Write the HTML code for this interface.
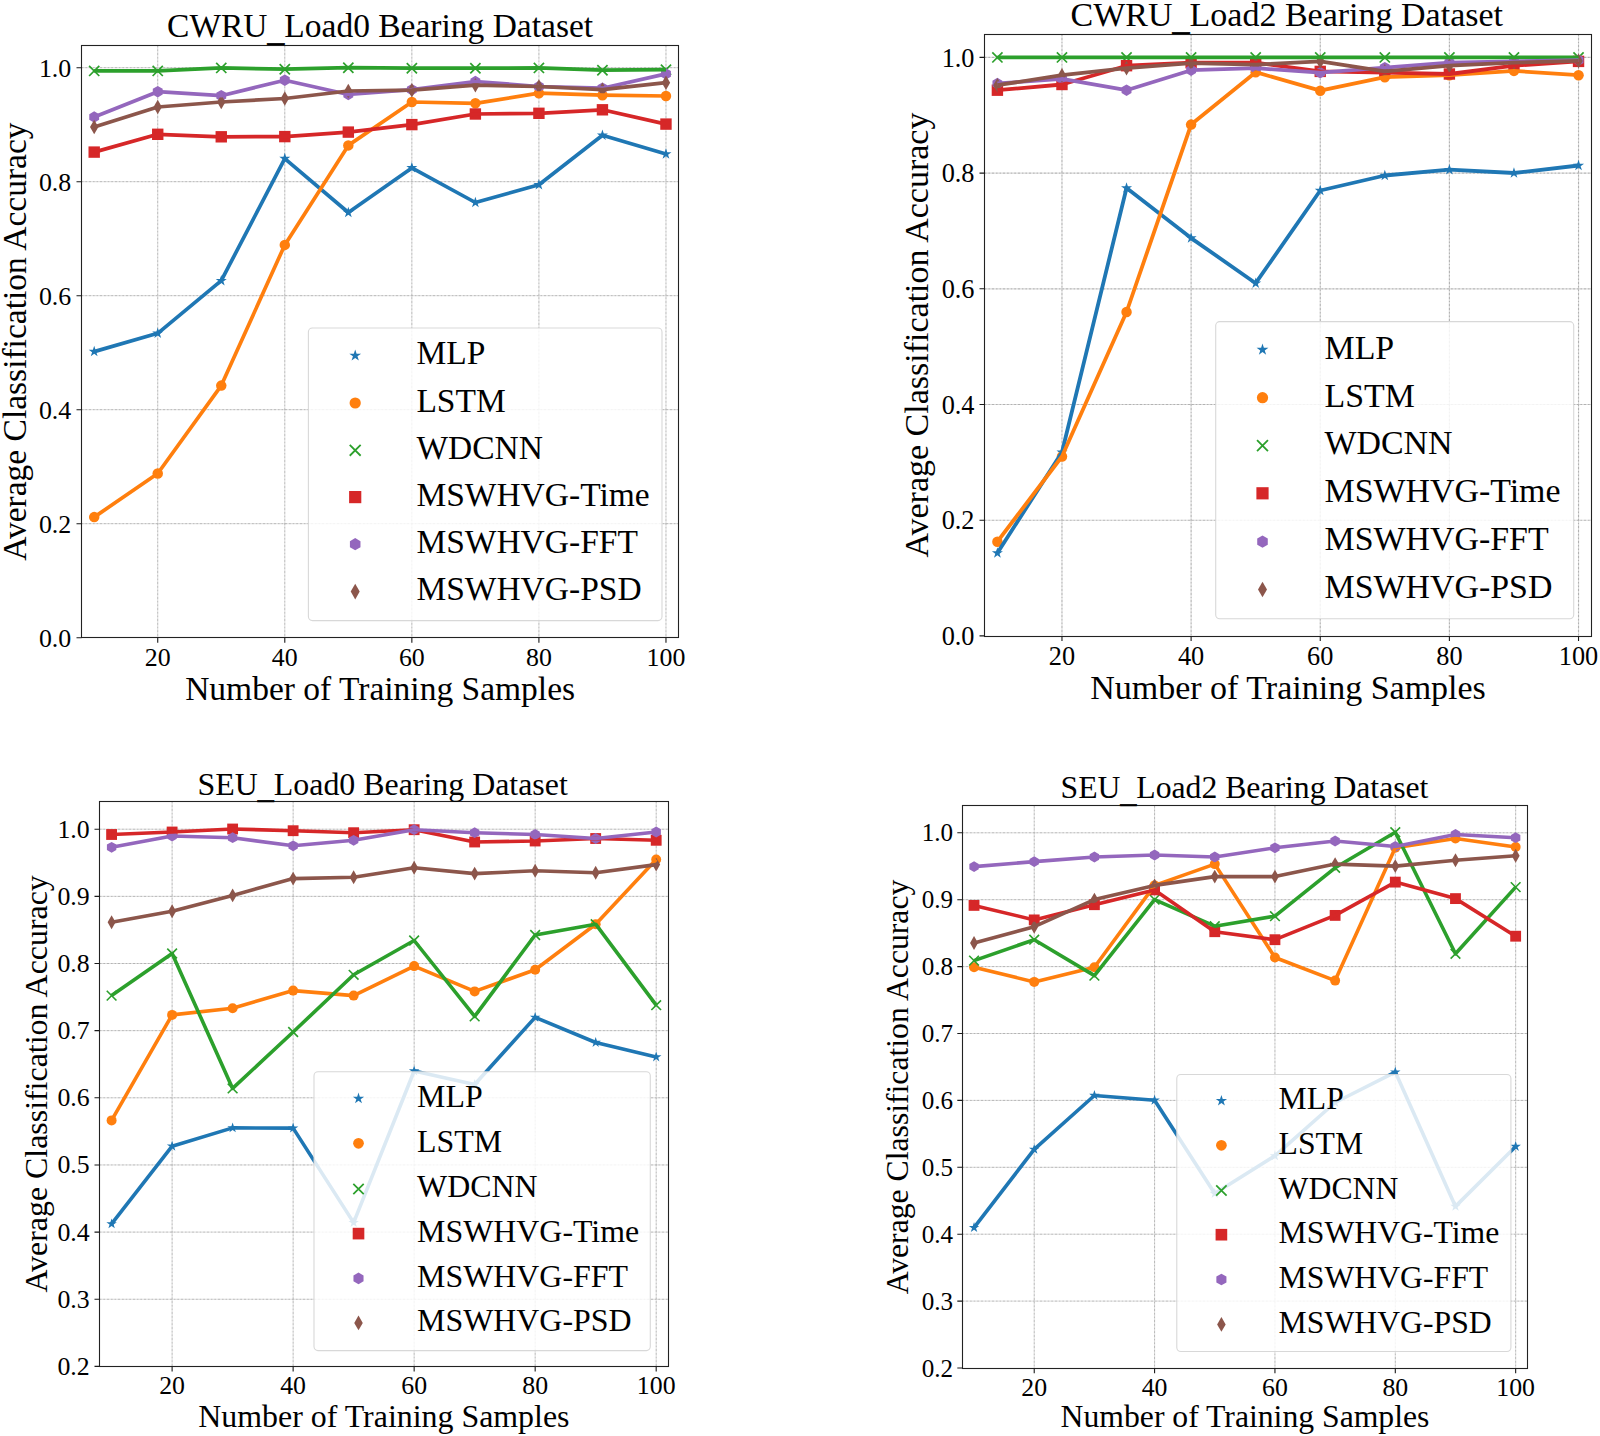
<!DOCTYPE html>
<html lang="en"><head><meta charset="utf-8"><title>Average Classification Accuracy</title>
<style>
html,body{margin:0;padding:0;background:#fff}
svg{display:block}
text{font-family:"Liberation Serif","Times New Roman",serif;fill:#000}
.grid{fill:none;stroke-dasharray:2.2 .5 .5 .5}
.gv{stroke:#8e8e8e;stroke-width:.65}
.gh{stroke:#acacac;stroke-width:.9}
.g2{stroke:#b2b2b2;stroke-width:1.15}
.us{stroke:#000;stroke-width:.6}
.spine{fill:none;stroke:#222;stroke-width:1.1}
.tick{stroke:#1a1a1a;stroke-width:1.1;fill:none}
.leg{fill:#fff;fill-opacity:.84;stroke:#d4d4d4;stroke-opacity:.9;stroke-width:1.1}
</style></head><body>
<svg width="1600" height="1436" viewBox="0 0 1600 1436">
<rect width="1600" height="1436" fill="#fff"/>
<g>
<rect x="81.5" y="45.5" width="597.2" height="592.2" fill="#fff"/>
<path d="M157.73 45.5V637.7M284.79 45.5V637.7M411.85 45.5V637.7M538.91 45.5V637.7M665.97 45.5V637.7" class="grid gv"/>
<path d="M81.5 523.7H678.7M81.5 409.7H678.7M81.5 295.7H678.7M81.5 181.7H678.7M81.5 67.7H678.7" class="grid gh"/>
<g><polygon points="94.2,345.8 92.9,349.81 88.68,349.81 92.09,352.28 90.79,356.29 94.2,353.82 97.61,356.29 96.31,352.28 99.72,349.81 95.5,349.81" fill="#1f77b4"/><polygon points="157.73,327.5 156.43,331.51 152.21,331.51 155.62,333.98 154.32,337.99 157.73,335.52 161.14,337.99 159.84,333.98 163.25,331.51 159.03,331.51" fill="#1f77b4"/><polygon points="221.26,274.9 219.96,278.91 215.74,278.91 219.15,281.38 217.85,285.39 221.26,282.92 224.67,285.39 223.37,281.38 226.78,278.91 222.56,278.91" fill="#1f77b4"/><polygon points="284.79,152.8 283.49,156.81 279.27,156.81 282.68,159.28 281.38,163.29 284.79,160.82 288.2,163.29 286.9,159.28 290.31,156.81 286.09,156.81" fill="#1f77b4"/><polygon points="348.32,206.7 347.02,210.71 342.8,210.71 346.21,213.18 344.91,217.19 348.32,214.72 351.73,217.19 350.43,213.18 353.84,210.71 349.62,210.71" fill="#1f77b4"/><polygon points="411.85,162.1 410.55,166.11 406.33,166.11 409.74,168.58 408.44,172.59 411.85,170.12 415.26,172.59 413.96,168.58 417.37,166.11 413.15,166.11" fill="#1f77b4"/><polygon points="475.38,196.7 474.08,200.71 469.86,200.71 473.27,203.18 471.97,207.19 475.38,204.72 478.79,207.19 477.49,203.18 480.9,200.71 476.68,200.71" fill="#1f77b4"/><polygon points="538.91,178.9 537.61,182.91 533.39,182.91 536.8,185.38 535.5,189.39 538.91,186.92 542.32,189.39 541.02,185.38 544.43,182.91 540.21,182.91" fill="#1f77b4"/><polygon points="602.44,129.5 601.14,133.51 596.92,133.51 600.33,135.98 599.03,139.99 602.44,137.52 605.85,139.99 604.55,135.98 607.96,133.51 603.74,133.51" fill="#1f77b4"/><polygon points="665.97,148.3 664.67,152.31 660.45,152.31 663.86,154.78 662.56,158.79 665.97,156.32 669.38,158.79 668.08,154.78 671.49,152.31 667.27,152.31" fill="#1f77b4"/></g>
<g><circle cx="94.2" cy="517.1" r="5.25" fill="#ff7f0e"/><circle cx="157.73" cy="473.5" r="5.25" fill="#ff7f0e"/><circle cx="221.26" cy="385.6" r="5.25" fill="#ff7f0e"/><circle cx="284.79" cy="244.9" r="5.25" fill="#ff7f0e"/><circle cx="348.32" cy="145.4" r="5.25" fill="#ff7f0e"/><circle cx="411.85" cy="102" r="5.25" fill="#ff7f0e"/><circle cx="475.38" cy="103.3" r="5.25" fill="#ff7f0e"/><circle cx="538.91" cy="93.2" r="5.25" fill="#ff7f0e"/><circle cx="602.44" cy="95.2" r="5.25" fill="#ff7f0e"/><circle cx="665.97" cy="96" r="5.25" fill="#ff7f0e"/></g>
<g><path d="M89.1 65.8L99.3 76M89.1 76L99.3 65.8" stroke="#2ca02c" stroke-width="1.7" fill="none"/><path d="M152.63 65.8L162.83 76M152.63 76L162.83 65.8" stroke="#2ca02c" stroke-width="1.7" fill="none"/><path d="M216.16 62.8L226.36 73M216.16 73L226.36 62.8" stroke="#2ca02c" stroke-width="1.7" fill="none"/><path d="M279.69 64.1L289.89 74.3M279.69 74.3L289.89 64.1" stroke="#2ca02c" stroke-width="1.7" fill="none"/><path d="M343.22 62.6L353.42 72.8M343.22 72.8L353.42 62.6" stroke="#2ca02c" stroke-width="1.7" fill="none"/><path d="M406.75 63.1L416.95 73.3M406.75 73.3L416.95 63.1" stroke="#2ca02c" stroke-width="1.7" fill="none"/><path d="M470.28 63.1L480.48 73.3M470.28 73.3L480.48 63.1" stroke="#2ca02c" stroke-width="1.7" fill="none"/><path d="M533.81 62.8L544.01 73M533.81 73L544.01 62.8" stroke="#2ca02c" stroke-width="1.7" fill="none"/><path d="M597.34 65.1L607.54 75.3M597.34 75.3L607.54 65.1" stroke="#2ca02c" stroke-width="1.7" fill="none"/><path d="M660.87 64.6L671.07 74.8M660.87 74.8L671.07 64.6" stroke="#2ca02c" stroke-width="1.7" fill="none"/></g>
<g><rect x="88.5" y="146.4" width="11.4" height="11.4" fill="#d62728"/><rect x="152.03" y="128.6" width="11.4" height="11.4" fill="#d62728"/><rect x="215.56" y="131.1" width="11.4" height="11.4" fill="#d62728"/><rect x="279.09" y="130.9" width="11.4" height="11.4" fill="#d62728"/><rect x="342.62" y="126.4" width="11.4" height="11.4" fill="#d62728"/><rect x="406.15" y="118.9" width="11.4" height="11.4" fill="#d62728"/><rect x="469.68" y="108.3" width="11.4" height="11.4" fill="#d62728"/><rect x="533.21" y="107.6" width="11.4" height="11.4" fill="#d62728"/><rect x="596.74" y="104.1" width="11.4" height="11.4" fill="#d62728"/><rect x="660.27" y="118.4" width="11.4" height="11.4" fill="#d62728"/></g>
<g><polygon points="94.2,111.3 89.26,114.15 89.26,119.85 94.2,122.7 99.14,119.85 99.14,114.15" fill="#9467bd"/><polygon points="157.73,86 152.79,88.85 152.79,94.55 157.73,97.4 162.67,94.55 162.67,88.85" fill="#9467bd"/><polygon points="221.26,90 216.32,92.85 216.32,98.55 221.26,101.4 226.2,98.55 226.2,92.85" fill="#9467bd"/><polygon points="284.79,74.5 279.85,77.35 279.85,83.05 284.79,85.9 289.73,83.05 289.73,77.35" fill="#9467bd"/><polygon points="348.32,88.8 343.38,91.65 343.38,97.35 348.32,100.2 353.26,97.35 353.26,91.65" fill="#9467bd"/><polygon points="411.85,84 406.91,86.85 406.91,92.55 411.85,95.4 416.79,92.55 416.79,86.85" fill="#9467bd"/><polygon points="475.38,75.8 470.44,78.65 470.44,84.35 475.38,87.2 480.32,84.35 480.32,78.65" fill="#9467bd"/><polygon points="538.91,80.8 533.97,83.65 533.97,89.35 538.91,92.2 543.85,89.35 543.85,83.65" fill="#9467bd"/><polygon points="602.44,82.5 597.5,85.35 597.5,91.05 602.44,93.9 607.38,91.05 607.38,85.35" fill="#9467bd"/><polygon points="665.97,68.2 661.03,71.05 661.03,76.75 665.97,79.6 670.91,76.75 670.91,71.05" fill="#9467bd"/></g>
<g><polygon points="94.2,119.7 98.4,127 94.2,134.3 90,127" fill="#8c564b"/><polygon points="157.73,99.7 161.93,107 157.73,114.3 153.53,107" fill="#8c564b"/><polygon points="221.26,94.7 225.46,102 221.26,109.3 217.06,102" fill="#8c564b"/><polygon points="284.79,91.2 288.99,98.5 284.79,105.8 280.59,98.5" fill="#8c564b"/><polygon points="348.32,83.7 352.52,91 348.32,98.3 344.12,91" fill="#8c564b"/><polygon points="411.85,82.9 416.05,90.2 411.85,97.5 407.65,90.2" fill="#8c564b"/><polygon points="475.38,77.9 479.58,85.2 475.38,92.5 471.18,85.2" fill="#8c564b"/><polygon points="538.91,79.2 543.11,86.5 538.91,93.8 534.71,86.5" fill="#8c564b"/><polygon points="602.44,82.4 606.64,89.7 602.44,97 598.24,89.7" fill="#8c564b"/><polygon points="665.97,75.4 670.17,82.7 665.97,90 661.77,82.7" fill="#8c564b"/></g>
<polyline points="94.2,351.6 157.73,333.3 221.26,280.7 284.79,158.6 348.32,212.5 411.85,167.9 475.38,202.5 538.91,184.7 602.44,135.3 665.97,154.1" fill="none" stroke="#1f77b4" stroke-width="3.7" stroke-linejoin="round" stroke-linecap="butt"/>
<polyline points="94.2,517.1 157.73,473.5 221.26,385.6 284.79,244.9 348.32,145.4 411.85,102 475.38,103.3 538.91,93.2 602.44,95.2 665.97,96" fill="none" stroke="#ff7f0e" stroke-width="3.7" stroke-linejoin="round" stroke-linecap="butt"/>
<polyline points="94.2,70.9 157.73,70.9 221.26,67.9 284.79,69.2 348.32,67.7 411.85,68.2 475.38,68.2 538.91,67.9 602.44,70.2 665.97,69.7" fill="none" stroke="#2ca02c" stroke-width="3.7" stroke-linejoin="round" stroke-linecap="butt"/>
<polyline points="94.2,152.1 157.73,134.3 221.26,136.8 284.79,136.6 348.32,132.1 411.85,124.6 475.38,114 538.91,113.3 602.44,109.8 665.97,124.1" fill="none" stroke="#d62728" stroke-width="3.7" stroke-linejoin="round" stroke-linecap="butt"/>
<polyline points="94.2,117 157.73,91.7 221.26,95.7 284.79,80.2 348.32,94.5 411.85,89.7 475.38,81.5 538.91,86.5 602.44,88.2 665.97,73.9" fill="none" stroke="#9467bd" stroke-width="3.7" stroke-linejoin="round" stroke-linecap="butt"/>
<polyline points="94.2,127 157.73,107 221.26,102 284.79,98.5 348.32,91 411.85,90.2 475.38,85.2 538.91,86.5 602.44,89.7 665.97,82.7" fill="none" stroke="#8c564b" stroke-width="3.7" stroke-linejoin="round" stroke-linecap="butt"/>
<rect x="308.4" y="328" width="353.6" height="292.6" rx="4" ry="4" class="leg"/>
<polygon points="355.2,349.39 353.81,353.68 349.3,353.68 352.95,356.33 351.55,360.62 355.2,357.97 358.85,360.62 357.45,356.33 361.1,353.68 356.59,353.68" fill="#1f77b4"/>
<text x="416.4" y="364.3" font-size="33.5">MLP</text>
<circle cx="355.2" cy="403" r="5.62" fill="#ff7f0e"/>
<text x="416.4" y="411.7" font-size="33.5">LSTM</text>
<path d="M349.74 444.84L360.66 455.76M349.74 455.76L360.66 444.84" stroke="#2ca02c" stroke-width="1.82" fill="none"/>
<text x="416.4" y="459" font-size="33.5">WDCNN</text>
<rect x="349.1" y="491" width="12.2" height="12.2" fill="#d62728"/>
<text x="416.4" y="505.8" font-size="33.5">MSWHVG-Time</text>
<polygon points="355.2,538.1 349.92,541.15 349.92,547.25 355.2,550.3 360.48,547.25 360.48,541.15" fill="#9467bd"/>
<text x="416.4" y="552.9" font-size="33.5">MSWHVG-FFT</text>
<polygon points="355.2,583.79 359.69,591.6 355.2,599.41 350.71,591.6" fill="#8c564b"/>
<text x="416.4" y="600.3" font-size="33.5">MSWHVG-PSD</text>
<rect x="81.5" y="45.5" width="597" height="592" class="spine"/>
<path d="M157.73 637.7v5M284.79 637.7v5M411.85 637.7v5M538.91 637.7v5M665.97 637.7v5M81.5 637.7h-5M81.5 523.7h-5M81.5 409.7h-5M81.5 295.7h-5M81.5 181.7h-5M81.5 67.7h-5" class="tick"/>
<text x="157.73" y="666" font-size="25.9" text-anchor="middle">20</text>
<text x="284.79" y="666" font-size="25.9" text-anchor="middle">40</text>
<text x="411.85" y="666" font-size="25.9" text-anchor="middle">60</text>
<text x="538.91" y="666" font-size="25.9" text-anchor="middle">80</text>
<text x="665.97" y="666" font-size="25.9" text-anchor="middle">100</text>
<text x="71.3" y="646.9" font-size="25.9" text-anchor="end">0.0</text>
<text x="71.3" y="532.9" font-size="25.9" text-anchor="end">0.2</text>
<text x="71.3" y="418.9" font-size="25.9" text-anchor="end">0.4</text>
<text x="71.3" y="304.9" font-size="25.9" text-anchor="end">0.6</text>
<text x="71.3" y="190.9" font-size="25.9" text-anchor="end">0.8</text>
<text x="71.3" y="76.9" font-size="25.9" text-anchor="end">1.0</text>
<text x="380.1" y="37.4" font-size="33.5" text-anchor="middle">CWRU<tspan dy="3.6" class="us">_</tspan><tspan dy="-3.6">Load0 Bearing Dataset</tspan></text>
<text x="380.1" y="700" font-size="33.5" text-anchor="middle">Number of Training Samples</text>
<text transform="translate(26 341.6) rotate(-90)" font-size="33.5" text-anchor="middle">Average Classification Accuracy</text>
</g>
<g>
<rect x="984.5" y="34" width="607" height="602.1" fill="#fff"/>
<path d="M1061.97 34V636.1M1191.11 34V636.1M1320.25 34V636.1M1449.39 34V636.1M1578.53 34V636.1" class="grid gv g2"/>
<path d="M984.5 520.2H1591.5M984.5 404.5H1591.5M984.5 288.8H1591.5M984.5 173.1H1591.5M984.5 57.4H1591.5" class="grid gh g2"/>
<g><polygon points="997.4,547.2 996.1,551.21 991.88,551.21 995.29,553.68 993.99,557.69 997.4,555.22 1000.81,557.69 999.51,553.68 1002.92,551.21 998.7,551.21" fill="#1f77b4"/><polygon points="1061.97,446.4 1060.67,450.41 1056.45,450.41 1059.86,452.88 1058.56,456.89 1061.97,454.42 1065.38,456.89 1064.08,452.88 1067.49,450.41 1063.27,450.41" fill="#1f77b4"/><polygon points="1126.54,182.2 1125.24,186.21 1121.02,186.21 1124.43,188.68 1123.13,192.69 1126.54,190.22 1129.95,192.69 1128.65,188.68 1132.06,186.21 1127.84,186.21" fill="#1f77b4"/><polygon points="1191.11,232.3 1189.81,236.31 1185.59,236.31 1189,238.78 1187.7,242.79 1191.11,240.32 1194.52,242.79 1193.22,238.78 1196.63,236.31 1192.41,236.31" fill="#1f77b4"/><polygon points="1255.68,277.4 1254.38,281.41 1250.16,281.41 1253.57,283.88 1252.27,287.89 1255.68,285.42 1259.09,287.89 1257.79,283.88 1261.2,281.41 1256.98,281.41" fill="#1f77b4"/><polygon points="1320.25,184.7 1318.95,188.71 1314.73,188.71 1318.14,191.18 1316.84,195.19 1320.25,192.72 1323.66,195.19 1322.36,191.18 1325.77,188.71 1321.55,188.71" fill="#1f77b4"/><polygon points="1384.82,169.7 1383.52,173.71 1379.3,173.71 1382.71,176.18 1381.41,180.19 1384.82,177.72 1388.23,180.19 1386.93,176.18 1390.34,173.71 1386.12,173.71" fill="#1f77b4"/><polygon points="1449.39,163.9 1448.09,167.91 1443.87,167.91 1447.28,170.38 1445.98,174.39 1449.39,171.92 1452.8,174.39 1451.5,170.38 1454.91,167.91 1450.69,167.91" fill="#1f77b4"/><polygon points="1513.96,167.2 1512.66,171.21 1508.44,171.21 1511.85,173.68 1510.55,177.69 1513.96,175.22 1517.37,177.69 1516.07,173.68 1519.48,171.21 1515.26,171.21" fill="#1f77b4"/><polygon points="1578.53,159.7 1577.23,163.71 1573.01,163.71 1576.42,166.18 1575.12,170.19 1578.53,167.72 1581.94,170.19 1580.64,166.18 1584.05,163.71 1579.83,163.71" fill="#1f77b4"/></g>
<g><circle cx="997.4" cy="541.7" r="5.25" fill="#ff7f0e"/><circle cx="1061.97" cy="456.5" r="5.25" fill="#ff7f0e"/><circle cx="1126.54" cy="312" r="5.25" fill="#ff7f0e"/><circle cx="1191.11" cy="124.6" r="5.25" fill="#ff7f0e"/><circle cx="1255.68" cy="72.2" r="5.25" fill="#ff7f0e"/><circle cx="1320.25" cy="90.7" r="5.25" fill="#ff7f0e"/><circle cx="1384.82" cy="77.2" r="5.25" fill="#ff7f0e"/><circle cx="1449.39" cy="75.2" r="5.25" fill="#ff7f0e"/><circle cx="1513.96" cy="70.9" r="5.25" fill="#ff7f0e"/><circle cx="1578.53" cy="75.2" r="5.25" fill="#ff7f0e"/></g>
<g><path d="M992.3 52.3L1002.5 62.5M992.3 62.5L1002.5 52.3" stroke="#2ca02c" stroke-width="1.7" fill="none"/><path d="M1056.87 52.3L1067.07 62.5M1056.87 62.5L1067.07 52.3" stroke="#2ca02c" stroke-width="1.7" fill="none"/><path d="M1121.44 52.3L1131.64 62.5M1121.44 62.5L1131.64 52.3" stroke="#2ca02c" stroke-width="1.7" fill="none"/><path d="M1186.01 52.3L1196.21 62.5M1186.01 62.5L1196.21 52.3" stroke="#2ca02c" stroke-width="1.7" fill="none"/><path d="M1250.58 52.3L1260.78 62.5M1250.58 62.5L1260.78 52.3" stroke="#2ca02c" stroke-width="1.7" fill="none"/><path d="M1315.15 52.3L1325.35 62.5M1315.15 62.5L1325.35 52.3" stroke="#2ca02c" stroke-width="1.7" fill="none"/><path d="M1379.72 52.3L1389.92 62.5M1379.72 62.5L1389.92 52.3" stroke="#2ca02c" stroke-width="1.7" fill="none"/><path d="M1444.29 52.3L1454.49 62.5M1444.29 62.5L1454.49 52.3" stroke="#2ca02c" stroke-width="1.7" fill="none"/><path d="M1508.86 52.3L1519.06 62.5M1508.86 62.5L1519.06 52.3" stroke="#2ca02c" stroke-width="1.7" fill="none"/><path d="M1573.43 52.3L1583.63 62.5M1573.43 62.5L1583.63 52.3" stroke="#2ca02c" stroke-width="1.7" fill="none"/></g>
<g><rect x="991.7" y="84.5" width="11.4" height="11.4" fill="#d62728"/><rect x="1056.27" y="78.8" width="11.4" height="11.4" fill="#d62728"/><rect x="1120.84" y="60" width="11.4" height="11.4" fill="#d62728"/><rect x="1185.41" y="57" width="11.4" height="11.4" fill="#d62728"/><rect x="1249.98" y="57" width="11.4" height="11.4" fill="#d62728"/><rect x="1314.55" y="65.7" width="11.4" height="11.4" fill="#d62728"/><rect x="1379.12" y="67" width="11.4" height="11.4" fill="#d62728"/><rect x="1443.69" y="68.3" width="11.4" height="11.4" fill="#d62728"/><rect x="1508.26" y="60" width="11.4" height="11.4" fill="#d62728"/><rect x="1572.83" y="55.7" width="11.4" height="11.4" fill="#d62728"/></g>
<g><polygon points="997.4,77.8 992.46,80.65 992.46,86.35 997.4,89.2 1002.34,86.35 1002.34,80.65" fill="#9467bd"/><polygon points="1061.97,73.2 1057.03,76.05 1057.03,81.75 1061.97,84.6 1066.91,81.75 1066.91,76.05" fill="#9467bd"/><polygon points="1126.54,84.5 1121.6,87.35 1121.6,93.05 1126.54,95.9 1131.48,93.05 1131.48,87.35" fill="#9467bd"/><polygon points="1191.11,64.5 1186.17,67.35 1186.17,73.05 1191.11,75.9 1196.05,73.05 1196.05,67.35" fill="#9467bd"/><polygon points="1255.68,62.5 1250.74,65.35 1250.74,71.05 1255.68,73.9 1260.62,71.05 1260.62,65.35" fill="#9467bd"/><polygon points="1320.25,67 1315.31,69.85 1315.31,75.55 1320.25,78.4 1325.19,75.55 1325.19,69.85" fill="#9467bd"/><polygon points="1384.82,62 1379.88,64.85 1379.88,70.55 1384.82,73.4 1389.76,70.55 1389.76,64.85" fill="#9467bd"/><polygon points="1449.39,57 1444.45,59.85 1444.45,65.55 1449.39,68.4 1454.33,65.55 1454.33,59.85" fill="#9467bd"/><polygon points="1513.96,55.7 1509.02,58.55 1509.02,64.25 1513.96,67.1 1518.9,64.25 1518.9,58.55" fill="#9467bd"/><polygon points="1578.53,54.5 1573.59,57.35 1573.59,63.05 1578.53,65.9 1583.47,63.05 1583.47,57.35" fill="#9467bd"/></g>
<g><polygon points="997.4,77.9 1001.6,85.2 997.4,92.5 993.2,85.2" fill="#8c564b"/><polygon points="1061.97,67.9 1066.17,75.2 1061.97,82.5 1057.77,75.2" fill="#8c564b"/><polygon points="1126.54,60.9 1130.74,68.2 1126.54,75.5 1122.34,68.2" fill="#8c564b"/><polygon points="1191.11,55.9 1195.31,63.2 1191.11,70.5 1186.91,63.2" fill="#8c564b"/><polygon points="1255.68,57.4 1259.88,64.7 1255.68,72 1251.48,64.7" fill="#8c564b"/><polygon points="1320.25,54.1 1324.45,61.4 1320.25,68.7 1316.05,61.4" fill="#8c564b"/><polygon points="1384.82,64.1 1389.02,71.4 1384.82,78.7 1380.62,71.4" fill="#8c564b"/><polygon points="1449.39,58.4 1453.59,65.7 1449.39,73 1445.19,65.7" fill="#8c564b"/><polygon points="1513.96,55.4 1518.16,62.7 1513.96,70 1509.76,62.7" fill="#8c564b"/><polygon points="1578.53,53.6 1582.73,60.9 1578.53,68.2 1574.33,60.9" fill="#8c564b"/></g>
<polyline points="997.4,553 1061.97,452.2 1126.54,188 1191.11,238.1 1255.68,283.2 1320.25,190.5 1384.82,175.5 1449.39,169.7 1513.96,173 1578.53,165.5" fill="none" stroke="#1f77b4" stroke-width="3.8" stroke-linejoin="round" stroke-linecap="butt"/>
<polyline points="997.4,541.7 1061.97,456.5 1126.54,312 1191.11,124.6 1255.68,72.2 1320.25,90.7 1384.82,77.2 1449.39,75.2 1513.96,70.9 1578.53,75.2" fill="none" stroke="#ff7f0e" stroke-width="3.8" stroke-linejoin="round" stroke-linecap="butt"/>
<polyline points="997.4,57.4 1061.97,57.4 1126.54,57.4 1191.11,57.4 1255.68,57.4 1320.25,57.4 1384.82,57.4 1449.39,57.4 1513.96,57.4 1578.53,57.4" fill="none" stroke="#2ca02c" stroke-width="3.8" stroke-linejoin="round" stroke-linecap="butt"/>
<polyline points="997.4,90.2 1061.97,84.5 1126.54,65.7 1191.11,62.7 1255.68,62.7 1320.25,71.4 1384.82,72.7 1449.39,74 1513.96,65.7 1578.53,61.4" fill="none" stroke="#d62728" stroke-width="3.8" stroke-linejoin="round" stroke-linecap="butt"/>
<polyline points="997.4,83.5 1061.97,78.9 1126.54,90.2 1191.11,70.2 1255.68,68.2 1320.25,72.7 1384.82,67.7 1449.39,62.7 1513.96,61.4 1578.53,60.2" fill="none" stroke="#9467bd" stroke-width="3.8" stroke-linejoin="round" stroke-linecap="butt"/>
<polyline points="997.4,85.2 1061.97,75.2 1126.54,68.2 1191.11,63.2 1255.68,64.7 1320.25,61.4 1384.82,71.4 1449.39,65.7 1513.96,62.7 1578.53,60.9" fill="none" stroke="#8c564b" stroke-width="3.8" stroke-linejoin="round" stroke-linecap="butt"/>
<rect x="1215.7" y="321.6" width="358" height="297.2" rx="4" ry="4" class="leg"/>
<polygon points="1262.5,343.49 1261.11,347.78 1256.6,347.78 1260.25,350.43 1258.85,354.72 1262.5,352.07 1266.15,354.72 1264.75,350.43 1268.4,347.78 1263.89,347.78" fill="#1f77b4"/>
<text x="1324.5" y="358.5" font-size="33.9">MLP</text>
<circle cx="1262.5" cy="397.7" r="5.62" fill="#ff7f0e"/>
<text x="1324.5" y="406.5" font-size="33.9">LSTM</text>
<path d="M1257.04 440.14L1267.96 451.06M1257.04 451.06L1267.96 440.14" stroke="#2ca02c" stroke-width="1.82" fill="none"/>
<text x="1324.5" y="454.4" font-size="33.9">WDCNN</text>
<rect x="1256.4" y="487.2" width="12.2" height="12.2" fill="#d62728"/>
<text x="1324.5" y="502.1" font-size="33.9">MSWHVG-Time</text>
<polygon points="1262.5,535.5 1257.22,538.55 1257.22,544.65 1262.5,547.7 1267.78,544.65 1267.78,538.55" fill="#9467bd"/>
<text x="1324.5" y="550.4" font-size="33.9">MSWHVG-FFT</text>
<polygon points="1262.5,581.69 1266.99,589.5 1262.5,597.31 1258.01,589.5" fill="#8c564b"/>
<text x="1324.5" y="598.3" font-size="33.9">MSWHVG-PSD</text>
<rect x="984.5" y="34.5" width="607" height="602" class="spine"/>
<path d="M1061.97 636.1v5M1191.11 636.1v5M1320.25 636.1v5M1449.39 636.1v5M1578.53 636.1v5M984.5 635.9h-5M984.5 520.2h-5M984.5 404.5h-5M984.5 288.8h-5M984.5 173.1h-5M984.5 57.4h-5" class="tick"/>
<text x="1061.97" y="664.9" font-size="26.3" text-anchor="middle">20</text>
<text x="1191.11" y="664.9" font-size="26.3" text-anchor="middle">40</text>
<text x="1320.25" y="664.9" font-size="26.3" text-anchor="middle">60</text>
<text x="1449.39" y="664.9" font-size="26.3" text-anchor="middle">80</text>
<text x="1578.53" y="664.9" font-size="26.3" text-anchor="middle">100</text>
<text x="974.5" y="645.1" font-size="26.3" text-anchor="end">0.0</text>
<text x="974.5" y="529.4" font-size="26.3" text-anchor="end">0.2</text>
<text x="974.5" y="413.7" font-size="26.3" text-anchor="end">0.4</text>
<text x="974.5" y="298" font-size="26.3" text-anchor="end">0.6</text>
<text x="974.5" y="182.3" font-size="26.3" text-anchor="end">0.8</text>
<text x="974.5" y="66.6" font-size="26.3" text-anchor="end">1.0</text>
<text x="1286.8" y="26.3" font-size="34" text-anchor="middle">CWRU<tspan dy="3.6" class="us">_</tspan><tspan dy="-3.6">Load2 Bearing Dataset</tspan></text>
<text x="1288" y="699" font-size="34" text-anchor="middle">Number of Training Samples</text>
<text transform="translate(928 335.05) rotate(-90)" font-size="34" text-anchor="middle">Average Classification Accuracy</text>
</g>
<g>
<rect x="99.5" y="801.4" width="568.8" height="565" fill="#fff"/>
<path d="M172.11 801.4V1366.4M293.13 801.4V1366.4M414.15 801.4V1366.4M535.17 801.4V1366.4M656.19 801.4V1366.4" class="grid gv"/>
<path d="M99.5 1299.25H668.3M99.5 1232.1H668.3M99.5 1164.95H668.3M99.5 1097.8H668.3M99.5 1030.65H668.3M99.5 963.5H668.3M99.5 896.35H668.3M99.5 829.2H668.3" class="grid gh"/>
<g><polygon points="111.6,1218.39 110.36,1222.2 106.36,1222.2 109.6,1224.55 108.36,1228.36 111.6,1226 114.84,1228.36 113.6,1224.55 116.84,1222.2 112.84,1222.2" fill="#1f77b4"/><polygon points="172.11,1140.69 170.87,1144.5 166.87,1144.5 170.11,1146.85 168.87,1150.66 172.11,1148.3 175.35,1150.66 174.11,1146.85 177.35,1144.5 173.35,1144.5" fill="#1f77b4"/><polygon points="232.62,1122.39 231.38,1126.2 227.38,1126.2 230.62,1128.55 229.38,1132.36 232.62,1130 235.86,1132.36 234.62,1128.55 237.86,1126.2 233.86,1126.2" fill="#1f77b4"/><polygon points="293.13,1122.59 291.89,1126.4 287.89,1126.4 291.13,1128.75 289.89,1132.56 293.13,1130.2 296.37,1132.56 295.13,1128.75 298.37,1126.4 294.37,1126.4" fill="#1f77b4"/><polygon points="353.64,1217.09 352.4,1220.9 348.4,1220.9 351.64,1223.25 350.4,1227.06 353.64,1224.7 356.88,1227.06 355.64,1223.25 358.88,1220.9 354.88,1220.9" fill="#1f77b4"/><polygon points="414.15,1065.49 412.91,1069.3 408.91,1069.3 412.15,1071.65 410.91,1075.46 414.15,1073.1 417.39,1075.46 416.15,1071.65 419.39,1069.3 415.39,1069.3" fill="#1f77b4"/><polygon points="474.66,1078.99 473.42,1082.8 469.42,1082.8 472.66,1085.15 471.42,1088.96 474.66,1086.6 477.9,1088.96 476.66,1085.15 479.9,1082.8 475.9,1082.8" fill="#1f77b4"/><polygon points="535.17,1011.89 533.93,1015.7 529.93,1015.7 533.17,1018.05 531.93,1021.86 535.17,1019.5 538.41,1021.86 537.17,1018.05 540.41,1015.7 536.41,1015.7" fill="#1f77b4"/><polygon points="595.68,1036.99 594.44,1040.8 590.44,1040.8 593.68,1043.15 592.44,1046.96 595.68,1044.6 598.92,1046.96 597.68,1043.15 600.92,1040.8 596.92,1040.8" fill="#1f77b4"/><polygon points="656.19,1051.49 654.95,1055.3 650.95,1055.3 654.19,1057.65 652.95,1061.46 656.19,1059.1 659.43,1061.46 658.19,1057.65 661.43,1055.3 657.43,1055.3" fill="#1f77b4"/></g>
<g><circle cx="111.6" cy="1120.4" r="4.99" fill="#ff7f0e"/><circle cx="172.11" cy="1014.9" r="4.99" fill="#ff7f0e"/><circle cx="232.62" cy="1008.2" r="4.99" fill="#ff7f0e"/><circle cx="293.13" cy="990.6" r="4.99" fill="#ff7f0e"/><circle cx="353.64" cy="995.6" r="4.99" fill="#ff7f0e"/><circle cx="414.15" cy="966.1" r="4.99" fill="#ff7f0e"/><circle cx="474.66" cy="991.4" r="4.99" fill="#ff7f0e"/><circle cx="535.17" cy="969.8" r="4.99" fill="#ff7f0e"/><circle cx="595.68" cy="924.2" r="4.99" fill="#ff7f0e"/><circle cx="656.19" cy="859.5" r="4.99" fill="#ff7f0e"/></g>
<g><path d="M106.75 990.75L116.44 1000.45M106.75 1000.45L116.44 990.75" stroke="#2ca02c" stroke-width="1.61" fill="none"/><path d="M167.27 948.65L176.96 958.35M167.27 958.35L176.96 948.65" stroke="#2ca02c" stroke-width="1.61" fill="none"/><path d="M227.78 1083.56L237.47 1093.25M227.78 1093.25L237.47 1083.56" stroke="#2ca02c" stroke-width="1.61" fill="none"/><path d="M288.28 1027.15L297.98 1036.85M288.28 1036.85L297.98 1027.15" stroke="#2ca02c" stroke-width="1.61" fill="none"/><path d="M348.79 969.95L358.49 979.64M348.79 979.64L358.49 969.95" stroke="#2ca02c" stroke-width="1.61" fill="none"/><path d="M409.3 935.65L419 945.35M409.3 945.35L419 935.65" stroke="#2ca02c" stroke-width="1.61" fill="none"/><path d="M469.81 1011.55L479.5 1021.25M469.81 1021.25L479.5 1011.55" stroke="#2ca02c" stroke-width="1.61" fill="none"/><path d="M530.32 930.15L540.01 939.85M530.32 939.85L540.01 930.15" stroke="#2ca02c" stroke-width="1.61" fill="none"/><path d="M590.84 919.36L600.53 929.05M590.84 929.05L600.53 919.36" stroke="#2ca02c" stroke-width="1.61" fill="none"/><path d="M651.35 1000.36L661.04 1010.05M651.35 1010.05L661.04 1000.36" stroke="#2ca02c" stroke-width="1.61" fill="none"/></g>
<g><rect x="106.18" y="829.09" width="10.83" height="10.83" fill="#d62728"/><rect x="166.7" y="826.59" width="10.83" height="10.83" fill="#d62728"/><rect x="227.21" y="823.59" width="10.83" height="10.83" fill="#d62728"/><rect x="287.71" y="825.29" width="10.83" height="10.83" fill="#d62728"/><rect x="348.22" y="827.29" width="10.83" height="10.83" fill="#d62728"/><rect x="408.73" y="824.29" width="10.83" height="10.83" fill="#d62728"/><rect x="469.24" y="836.59" width="10.83" height="10.83" fill="#d62728"/><rect x="529.75" y="835.59" width="10.83" height="10.83" fill="#d62728"/><rect x="590.27" y="833.09" width="10.83" height="10.83" fill="#d62728"/><rect x="650.78" y="834.88" width="10.83" height="10.83" fill="#d62728"/></g>
<g><polygon points="111.6,841.88 106.91,844.59 106.91,850.01 111.6,852.71 116.29,850.01 116.29,844.59" fill="#9467bd"/><polygon points="172.11,830.59 167.42,833.29 167.42,838.71 172.11,841.41 176.8,838.71 176.8,833.29" fill="#9467bd"/><polygon points="232.62,832.29 227.93,834.99 227.93,840.41 232.62,843.12 237.31,840.41 237.31,834.99" fill="#9467bd"/><polygon points="293.13,840.38 288.44,843.09 288.44,848.51 293.13,851.21 297.82,848.51 297.82,843.09" fill="#9467bd"/><polygon points="353.64,834.88 348.95,837.59 348.95,843.01 353.64,845.71 358.33,843.01 358.33,837.59" fill="#9467bd"/><polygon points="414.15,824.29 409.46,826.99 409.46,832.41 414.15,835.12 418.84,832.41 418.84,826.99" fill="#9467bd"/><polygon points="474.66,827.29 469.97,829.99 469.97,835.41 474.66,838.12 479.35,835.41 479.35,829.99" fill="#9467bd"/><polygon points="535.17,829.09 530.48,831.79 530.48,837.21 535.17,839.91 539.86,837.21 539.86,831.79" fill="#9467bd"/><polygon points="595.68,833.09 590.99,835.79 590.99,841.21 595.68,843.91 600.37,841.21 600.37,835.79" fill="#9467bd"/><polygon points="656.19,826.59 651.5,829.29 651.5,834.71 656.19,837.41 660.88,834.71 660.88,829.29" fill="#9467bd"/></g>
<g><polygon points="111.6,915.27 115.59,922.2 111.6,929.13 107.61,922.2" fill="#8c564b"/><polygon points="172.11,904.27 176.1,911.2 172.11,918.13 168.12,911.2" fill="#8c564b"/><polygon points="232.62,888.47 236.61,895.4 232.62,902.33 228.63,895.4" fill="#8c564b"/><polygon points="293.13,871.67 297.12,878.6 293.13,885.53 289.14,878.6" fill="#8c564b"/><polygon points="353.64,870.37 357.63,877.3 353.64,884.23 349.65,877.3" fill="#8c564b"/><polygon points="414.15,860.87 418.14,867.8 414.15,874.73 410.16,867.8" fill="#8c564b"/><polygon points="474.66,866.67 478.65,873.6 474.66,880.53 470.67,873.6" fill="#8c564b"/><polygon points="535.17,863.87 539.16,870.8 535.17,877.73 531.18,870.8" fill="#8c564b"/><polygon points="595.68,865.87 599.67,872.8 595.68,879.73 591.69,872.8" fill="#8c564b"/><polygon points="656.19,857.67 660.18,864.6 656.19,871.53 652.2,864.6" fill="#8c564b"/></g>
<polyline points="111.6,1223.9 172.11,1146.2 232.62,1127.9 293.13,1128.1 353.64,1222.6 414.15,1071 474.66,1084.5 535.17,1017.4 595.68,1042.5 656.19,1057" fill="none" stroke="#1f77b4" stroke-width="3.6" stroke-linejoin="round" stroke-linecap="butt"/>
<polyline points="111.6,1120.4 172.11,1014.9 232.62,1008.2 293.13,990.6 353.64,995.6 414.15,966.1 474.66,991.4 535.17,969.8 595.68,924.2 656.19,859.5" fill="none" stroke="#ff7f0e" stroke-width="3.6" stroke-linejoin="round" stroke-linecap="butt"/>
<polyline points="111.6,995.6 172.11,953.5 232.62,1088.4 293.13,1032 353.64,974.8 414.15,940.5 474.66,1016.4 535.17,935 595.68,924.2 656.19,1005.2" fill="none" stroke="#2ca02c" stroke-width="3.6" stroke-linejoin="round" stroke-linecap="butt"/>
<polyline points="111.6,834.5 172.11,832 232.62,829 293.13,830.7 353.64,832.7 414.15,829.7 474.66,842 535.17,841 595.68,838.5 656.19,840.3" fill="none" stroke="#d62728" stroke-width="3.6" stroke-linejoin="round" stroke-linecap="butt"/>
<polyline points="111.6,847.3 172.11,836 232.62,837.7 293.13,845.8 353.64,840.3 414.15,829.7 474.66,832.7 535.17,834.5 595.68,838.5 656.19,832" fill="none" stroke="#9467bd" stroke-width="3.6" stroke-linejoin="round" stroke-linecap="butt"/>
<polyline points="111.6,922.2 172.11,911.2 232.62,895.4 293.13,878.6 353.64,877.3 414.15,867.8 474.66,873.6 535.17,870.8 595.68,872.8 656.19,864.6" fill="none" stroke="#8c564b" stroke-width="3.6" stroke-linejoin="round" stroke-linecap="butt"/>
<rect x="314" y="1071.7" width="336.3" height="278.9" rx="4" ry="4" class="leg"/>
<polygon points="358.5,1092.58 357.17,1096.67 352.87,1096.67 356.35,1099.2 355.02,1103.29 358.5,1100.76 361.98,1103.29 360.65,1099.2 364.13,1096.67 359.83,1096.67" fill="#1f77b4"/>
<text x="417.1" y="1106.8" font-size="31.9">MLP</text>
<circle cx="358.5" cy="1143.3" r="5.36" fill="#ff7f0e"/>
<text x="417.1" y="1151.6" font-size="31.9">LSTM</text>
<path d="M353.3 1183.8L363.7 1194.2M353.3 1194.2L363.7 1183.8" stroke="#2ca02c" stroke-width="1.73" fill="none"/>
<text x="417.1" y="1197.3" font-size="31.9">WDCNN</text>
<rect x="352.69" y="1227.79" width="11.63" height="11.63" fill="#d62728"/>
<text x="417.1" y="1241.9" font-size="31.9">MSWHVG-Time</text>
<polygon points="358.5,1272.59 353.46,1275.49 353.46,1281.31 358.5,1284.21 363.54,1281.31 363.54,1275.49" fill="#9467bd"/>
<text x="417.1" y="1286.7" font-size="31.9">MSWHVG-FFT</text>
<polygon points="358.5,1315.45 362.78,1322.9 358.5,1330.35 354.22,1322.9" fill="#8c564b"/>
<text x="417.1" y="1331.2" font-size="31.9">MSWHVG-PSD</text>
<rect x="99.5" y="801.5" width="569" height="565" class="spine"/>
<path d="M172.11 1366.4v5M293.13 1366.4v5M414.15 1366.4v5M535.17 1366.4v5M656.19 1366.4v5M99.5 1366.4h-5M99.5 1299.25h-5M99.5 1232.1h-5M99.5 1164.95h-5M99.5 1097.8h-5M99.5 1030.65h-5M99.5 963.5h-5M99.5 896.35h-5M99.5 829.2h-5" class="tick"/>
<text x="172.11" y="1393.8" font-size="25.8" text-anchor="middle">20</text>
<text x="293.13" y="1393.8" font-size="25.8" text-anchor="middle">40</text>
<text x="414.15" y="1393.8" font-size="25.8" text-anchor="middle">60</text>
<text x="535.17" y="1393.8" font-size="25.8" text-anchor="middle">80</text>
<text x="656.19" y="1393.8" font-size="25.8" text-anchor="middle">100</text>
<text x="89.7" y="1374.8" font-size="25.8" text-anchor="end">0.2</text>
<text x="89.7" y="1307.65" font-size="25.8" text-anchor="end">0.3</text>
<text x="89.7" y="1240.5" font-size="25.8" text-anchor="end">0.4</text>
<text x="89.7" y="1173.35" font-size="25.8" text-anchor="end">0.5</text>
<text x="89.7" y="1106.2" font-size="25.8" text-anchor="end">0.6</text>
<text x="89.7" y="1039.05" font-size="25.8" text-anchor="end">0.7</text>
<text x="89.7" y="971.9" font-size="25.8" text-anchor="end">0.8</text>
<text x="89.7" y="904.75" font-size="25.8" text-anchor="end">0.9</text>
<text x="89.7" y="837.6" font-size="25.8" text-anchor="end">1.0</text>
<text x="382.7" y="794.6" font-size="31.9" text-anchor="middle">SEU<tspan dy="3.6" class="us">_</tspan><tspan dy="-3.6">Load0 Bearing Dataset</tspan></text>
<text x="383.9" y="1426.5" font-size="31.9" text-anchor="middle">Number of Training Samples</text>
<text transform="translate(46.5 1083.9) rotate(-90)" font-size="31.9" text-anchor="middle">Average Classification Accuracy</text>
</g>
<g>
<rect x="962.3" y="805.7" width="565.4" height="562.6" fill="#fff"/>
<path d="M1034.22 805.7V1368.3M1154.58 805.7V1368.3M1274.94 805.7V1368.3M1395.3 805.7V1368.3M1515.66 805.7V1368.3" class="grid gv"/>
<path d="M962.3 1301.1H1527.7M962.3 1234.2H1527.7M962.3 1167.3H1527.7M962.3 1100.4H1527.7M962.3 1033.5H1527.7M962.3 966.6H1527.7M962.3 899.7H1527.7M962.3 832.8H1527.7" class="grid gh"/>
<g><polygon points="974.04,1222.09 972.8,1225.9 968.8,1225.9 972.04,1228.25 970.8,1232.06 974.04,1229.7 977.28,1232.06 976.04,1228.25 979.28,1225.9 975.28,1225.9" fill="#1f77b4"/><polygon points="1034.22,1143.89 1032.98,1147.7 1028.98,1147.7 1032.22,1150.05 1030.98,1153.86 1034.22,1151.5 1037.46,1153.86 1036.22,1150.05 1039.46,1147.7 1035.46,1147.7" fill="#1f77b4"/><polygon points="1094.4,1089.99 1093.16,1093.8 1089.16,1093.8 1092.4,1096.15 1091.16,1099.96 1094.4,1097.6 1097.64,1099.96 1096.4,1096.15 1099.64,1093.8 1095.64,1093.8" fill="#1f77b4"/><polygon points="1154.58,1094.79 1153.34,1098.6 1149.34,1098.6 1152.58,1100.95 1151.34,1104.76 1154.58,1102.4 1157.82,1104.76 1156.58,1100.95 1159.82,1098.6 1155.82,1098.6" fill="#1f77b4"/><polygon points="1214.76,1187.99 1213.52,1191.8 1209.52,1191.8 1212.76,1194.15 1211.52,1197.96 1214.76,1195.6 1218,1197.96 1216.76,1194.15 1220,1191.8 1216,1191.8" fill="#1f77b4"/><polygon points="1274.94,1150.39 1273.7,1154.2 1269.7,1154.2 1272.94,1156.55 1271.7,1160.36 1274.94,1158 1278.18,1160.36 1276.94,1156.55 1280.18,1154.2 1276.18,1154.2" fill="#1f77b4"/><polygon points="1335.12,1096.99 1333.88,1100.8 1329.88,1100.8 1333.12,1103.15 1331.88,1106.96 1335.12,1104.6 1338.36,1106.96 1337.12,1103.15 1340.36,1100.8 1336.36,1100.8" fill="#1f77b4"/><polygon points="1395.3,1066.59 1394.06,1070.4 1390.06,1070.4 1393.3,1072.75 1392.06,1076.56 1395.3,1074.2 1398.54,1076.56 1397.3,1072.75 1400.54,1070.4 1396.54,1070.4" fill="#1f77b4"/><polygon points="1455.48,1200.89 1454.24,1204.7 1450.24,1204.7 1453.48,1207.05 1452.24,1210.86 1455.48,1208.5 1458.72,1210.86 1457.48,1207.05 1460.72,1204.7 1456.72,1204.7" fill="#1f77b4"/><polygon points="1515.66,1140.99 1514.42,1144.8 1510.42,1144.8 1513.66,1147.15 1512.42,1150.96 1515.66,1148.6 1518.9,1150.96 1517.66,1147.15 1520.9,1144.8 1516.9,1144.8" fill="#1f77b4"/></g>
<g><circle cx="974.04" cy="967.3" r="4.99" fill="#ff7f0e"/><circle cx="1034.22" cy="981.9" r="4.99" fill="#ff7f0e"/><circle cx="1094.4" cy="967.3" r="4.99" fill="#ff7f0e"/><circle cx="1154.58" cy="885.4" r="4.99" fill="#ff7f0e"/><circle cx="1214.76" cy="864.1" r="4.99" fill="#ff7f0e"/><circle cx="1274.94" cy="957.5" r="4.99" fill="#ff7f0e"/><circle cx="1335.12" cy="980.6" r="4.99" fill="#ff7f0e"/><circle cx="1395.3" cy="847.8" r="4.99" fill="#ff7f0e"/><circle cx="1455.48" cy="838.5" r="4.99" fill="#ff7f0e"/><circle cx="1515.66" cy="847" r="4.99" fill="#ff7f0e"/></g>
<g><path d="M969.19 955.75L978.88 965.45M969.19 965.45L978.88 955.75" stroke="#2ca02c" stroke-width="1.61" fill="none"/><path d="M1029.38 934.86L1039.07 944.55M1029.38 944.55L1039.07 934.86" stroke="#2ca02c" stroke-width="1.61" fill="none"/><path d="M1089.55 970.75L1099.24 980.45M1089.55 980.45L1099.24 970.75" stroke="#2ca02c" stroke-width="1.61" fill="none"/><path d="M1149.73 894.75L1159.42 904.45M1149.73 904.45L1159.42 894.75" stroke="#2ca02c" stroke-width="1.61" fill="none"/><path d="M1209.91 921.36L1219.61 931.05M1209.91 931.05L1219.61 921.36" stroke="#2ca02c" stroke-width="1.61" fill="none"/><path d="M1270.1 911.36L1279.79 921.05M1270.1 921.05L1279.79 911.36" stroke="#2ca02c" stroke-width="1.61" fill="none"/><path d="M1330.27 862.95L1339.96 872.64M1330.27 872.64L1339.96 862.95" stroke="#2ca02c" stroke-width="1.61" fill="none"/><path d="M1390.45 827.36L1400.14 837.05M1390.45 837.05L1400.14 827.36" stroke="#2ca02c" stroke-width="1.61" fill="none"/><path d="M1450.63 948.95L1460.33 958.64M1450.63 958.64L1460.33 948.95" stroke="#2ca02c" stroke-width="1.61" fill="none"/><path d="M1510.81 882.25L1520.5 891.95M1510.81 891.95L1520.5 882.25" stroke="#2ca02c" stroke-width="1.61" fill="none"/></g>
<g><rect x="968.62" y="899.99" width="10.83" height="10.83" fill="#d62728"/><rect x="1028.81" y="914.49" width="10.83" height="10.83" fill="#d62728"/><rect x="1088.98" y="899.29" width="10.83" height="10.83" fill="#d62728"/><rect x="1149.16" y="884.49" width="10.83" height="10.83" fill="#d62728"/><rect x="1209.35" y="926.29" width="10.83" height="10.83" fill="#d62728"/><rect x="1269.53" y="934.29" width="10.83" height="10.83" fill="#d62728"/><rect x="1329.7" y="909.99" width="10.83" height="10.83" fill="#d62728"/><rect x="1389.88" y="876.69" width="10.83" height="10.83" fill="#d62728"/><rect x="1450.07" y="893.19" width="10.83" height="10.83" fill="#d62728"/><rect x="1510.24" y="930.79" width="10.83" height="10.83" fill="#d62728"/></g>
<g><polygon points="974.04,861.19 969.35,863.89 969.35,869.31 974.04,872.01 978.73,869.31 978.73,863.89" fill="#9467bd"/><polygon points="1034.22,856.19 1029.53,858.89 1029.53,864.31 1034.22,867.01 1038.91,864.31 1038.91,858.89" fill="#9467bd"/><polygon points="1094.4,851.59 1089.71,854.29 1089.71,859.71 1094.4,862.41 1099.09,859.71 1099.09,854.29" fill="#9467bd"/><polygon points="1154.58,849.59 1149.89,852.29 1149.89,857.71 1154.58,860.41 1159.27,857.71 1159.27,852.29" fill="#9467bd"/><polygon points="1214.76,851.59 1210.07,854.29 1210.07,859.71 1214.76,862.41 1219.45,859.71 1219.45,854.29" fill="#9467bd"/><polygon points="1274.94,842.38 1270.25,845.09 1270.25,850.51 1274.94,853.21 1279.63,850.51 1279.63,845.09" fill="#9467bd"/><polygon points="1335.12,835.59 1330.43,838.29 1330.43,843.71 1335.12,846.41 1339.81,843.71 1339.81,838.29" fill="#9467bd"/><polygon points="1395.3,841.09 1390.61,843.79 1390.61,849.21 1395.3,851.91 1399.99,849.21 1399.99,843.79" fill="#9467bd"/><polygon points="1455.48,829.09 1450.79,831.79 1450.79,837.21 1455.48,839.91 1460.17,837.21 1460.17,831.79" fill="#9467bd"/><polygon points="1515.66,832.29 1510.97,834.99 1510.97,840.41 1515.66,843.12 1520.35,840.41 1520.35,834.99" fill="#9467bd"/></g>
<g><polygon points="974.04,936.07 978.03,943 974.04,949.93 970.05,943" fill="#8c564b"/><polygon points="1034.22,919.77 1038.21,926.7 1034.22,933.63 1030.23,926.7" fill="#8c564b"/><polygon points="1094.4,892.67 1098.39,899.6 1094.4,906.53 1090.41,899.6" fill="#8c564b"/><polygon points="1154.58,878.47 1158.57,885.4 1154.58,892.33 1150.59,885.4" fill="#8c564b"/><polygon points="1214.76,869.67 1218.75,876.6 1214.76,883.53 1210.77,876.6" fill="#8c564b"/><polygon points="1274.94,869.67 1278.93,876.6 1274.94,883.53 1270.95,876.6" fill="#8c564b"/><polygon points="1335.12,857.17 1339.11,864.1 1335.12,871.03 1331.13,864.1" fill="#8c564b"/><polygon points="1395.3,859.17 1399.29,866.1 1395.3,873.03 1391.31,866.1" fill="#8c564b"/><polygon points="1455.48,853.37 1459.47,860.3 1455.48,867.23 1451.49,860.3" fill="#8c564b"/><polygon points="1515.66,848.87 1519.65,855.8 1515.66,862.73 1511.67,855.8" fill="#8c564b"/></g>
<polyline points="974.04,1227.6 1034.22,1149.4 1094.4,1095.5 1154.58,1100.3 1214.76,1193.5 1274.94,1155.9 1335.12,1102.5 1395.3,1072.1 1455.48,1206.4 1515.66,1146.5" fill="none" stroke="#1f77b4" stroke-width="3.6" stroke-linejoin="round" stroke-linecap="butt"/>
<polyline points="974.04,967.3 1034.22,981.9 1094.4,967.3 1154.58,885.4 1214.76,864.1 1274.94,957.5 1335.12,980.6 1395.3,847.8 1455.48,838.5 1515.66,847" fill="none" stroke="#ff7f0e" stroke-width="3.6" stroke-linejoin="round" stroke-linecap="butt"/>
<polyline points="974.04,960.6 1034.22,939.7 1094.4,975.6 1154.58,899.6 1214.76,926.2 1274.94,916.2 1335.12,867.8 1395.3,832.2 1455.48,953.8 1515.66,887.1" fill="none" stroke="#2ca02c" stroke-width="3.6" stroke-linejoin="round" stroke-linecap="butt"/>
<polyline points="974.04,905.4 1034.22,919.9 1094.4,904.7 1154.58,889.9 1214.76,931.7 1274.94,939.7 1335.12,915.4 1395.3,882.1 1455.48,898.6 1515.66,936.2" fill="none" stroke="#d62728" stroke-width="3.6" stroke-linejoin="round" stroke-linecap="butt"/>
<polyline points="974.04,866.6 1034.22,861.6 1094.4,857 1154.58,855 1214.76,857 1274.94,847.8 1335.12,841 1395.3,846.5 1455.48,834.5 1515.66,837.7" fill="none" stroke="#9467bd" stroke-width="3.6" stroke-linejoin="round" stroke-linecap="butt"/>
<polyline points="974.04,943 1034.22,926.7 1094.4,899.6 1154.58,885.4 1214.76,876.6 1274.94,876.6 1335.12,864.1 1395.3,866.1 1455.48,860.3 1515.66,855.8" fill="none" stroke="#8c564b" stroke-width="3.6" stroke-linejoin="round" stroke-linecap="butt"/>
<rect x="1176.8" y="1074.5" width="334.1" height="277" rx="4" ry="4" class="leg"/>
<polygon points="1221.4,1094.88 1220.07,1098.97 1215.77,1098.97 1219.25,1101.5 1217.92,1105.59 1221.4,1103.06 1224.88,1105.59 1223.55,1101.5 1227.03,1098.97 1222.73,1098.97" fill="#1f77b4"/>
<text x="1278.6" y="1109.1" font-size="31.7">MLP</text>
<circle cx="1221.4" cy="1145.3" r="5.36" fill="#ff7f0e"/>
<text x="1278.6" y="1153.6" font-size="31.7">LSTM</text>
<path d="M1216.2 1185.3L1226.6 1195.7M1216.2 1195.7L1226.6 1185.3" stroke="#2ca02c" stroke-width="1.73" fill="none"/>
<text x="1278.6" y="1198.8" font-size="31.7">WDCNN</text>
<rect x="1215.59" y="1228.89" width="11.63" height="11.63" fill="#d62728"/>
<text x="1278.6" y="1243" font-size="31.7">MSWHVG-Time</text>
<polygon points="1221.4,1273.69 1216.36,1276.59 1216.36,1282.41 1221.4,1285.31 1226.44,1282.41 1226.44,1276.59" fill="#9467bd"/>
<text x="1278.6" y="1287.8" font-size="31.7">MSWHVG-FFT</text>
<polygon points="1221.4,1316.95 1225.68,1324.4 1221.4,1331.85 1217.12,1324.4" fill="#8c564b"/>
<text x="1278.6" y="1332.7" font-size="31.7">MSWHVG-PSD</text>
<rect x="962.5" y="805.5" width="565" height="563" class="spine"/>
<path d="M1034.22 1368.3v5M1154.58 1368.3v5M1274.94 1368.3v5M1395.3 1368.3v5M1515.66 1368.3v5M962.3 1368h-5M962.3 1301.1h-5M962.3 1234.2h-5M962.3 1167.3h-5M962.3 1100.4h-5M962.3 1033.5h-5M962.3 966.6h-5M962.3 899.7h-5M962.3 832.8h-5" class="tick"/>
<text x="1034.22" y="1395.5" font-size="25.8" text-anchor="middle">20</text>
<text x="1154.58" y="1395.5" font-size="25.8" text-anchor="middle">40</text>
<text x="1274.94" y="1395.5" font-size="25.8" text-anchor="middle">60</text>
<text x="1395.3" y="1395.5" font-size="25.8" text-anchor="middle">80</text>
<text x="1515.66" y="1395.5" font-size="25.8" text-anchor="middle">100</text>
<text x="953.1" y="1376.6" font-size="25.1" text-anchor="end">0.2</text>
<text x="953.1" y="1309.7" font-size="25.1" text-anchor="end">0.3</text>
<text x="953.1" y="1242.8" font-size="25.1" text-anchor="end">0.4</text>
<text x="953.1" y="1175.9" font-size="25.1" text-anchor="end">0.5</text>
<text x="953.1" y="1109" font-size="25.1" text-anchor="end">0.6</text>
<text x="953.1" y="1042.1" font-size="25.1" text-anchor="end">0.7</text>
<text x="953.1" y="975.2" font-size="25.1" text-anchor="end">0.8</text>
<text x="953.1" y="908.3" font-size="25.1" text-anchor="end">0.9</text>
<text x="953.1" y="841.4" font-size="25.1" text-anchor="end">1.0</text>
<text x="1244.5" y="798.2" font-size="31.7" text-anchor="middle">SEU<tspan dy="3.6" class="us">_</tspan><tspan dy="-3.6">Load2 Bearing Dataset</tspan></text>
<text x="1245" y="1427.1" font-size="31.7" text-anchor="middle">Number of Training Samples</text>
<text transform="translate(908 1087) rotate(-90)" font-size="31.7" text-anchor="middle">Average Classification Accuracy</text>
</g>
</svg>
</body></html>
